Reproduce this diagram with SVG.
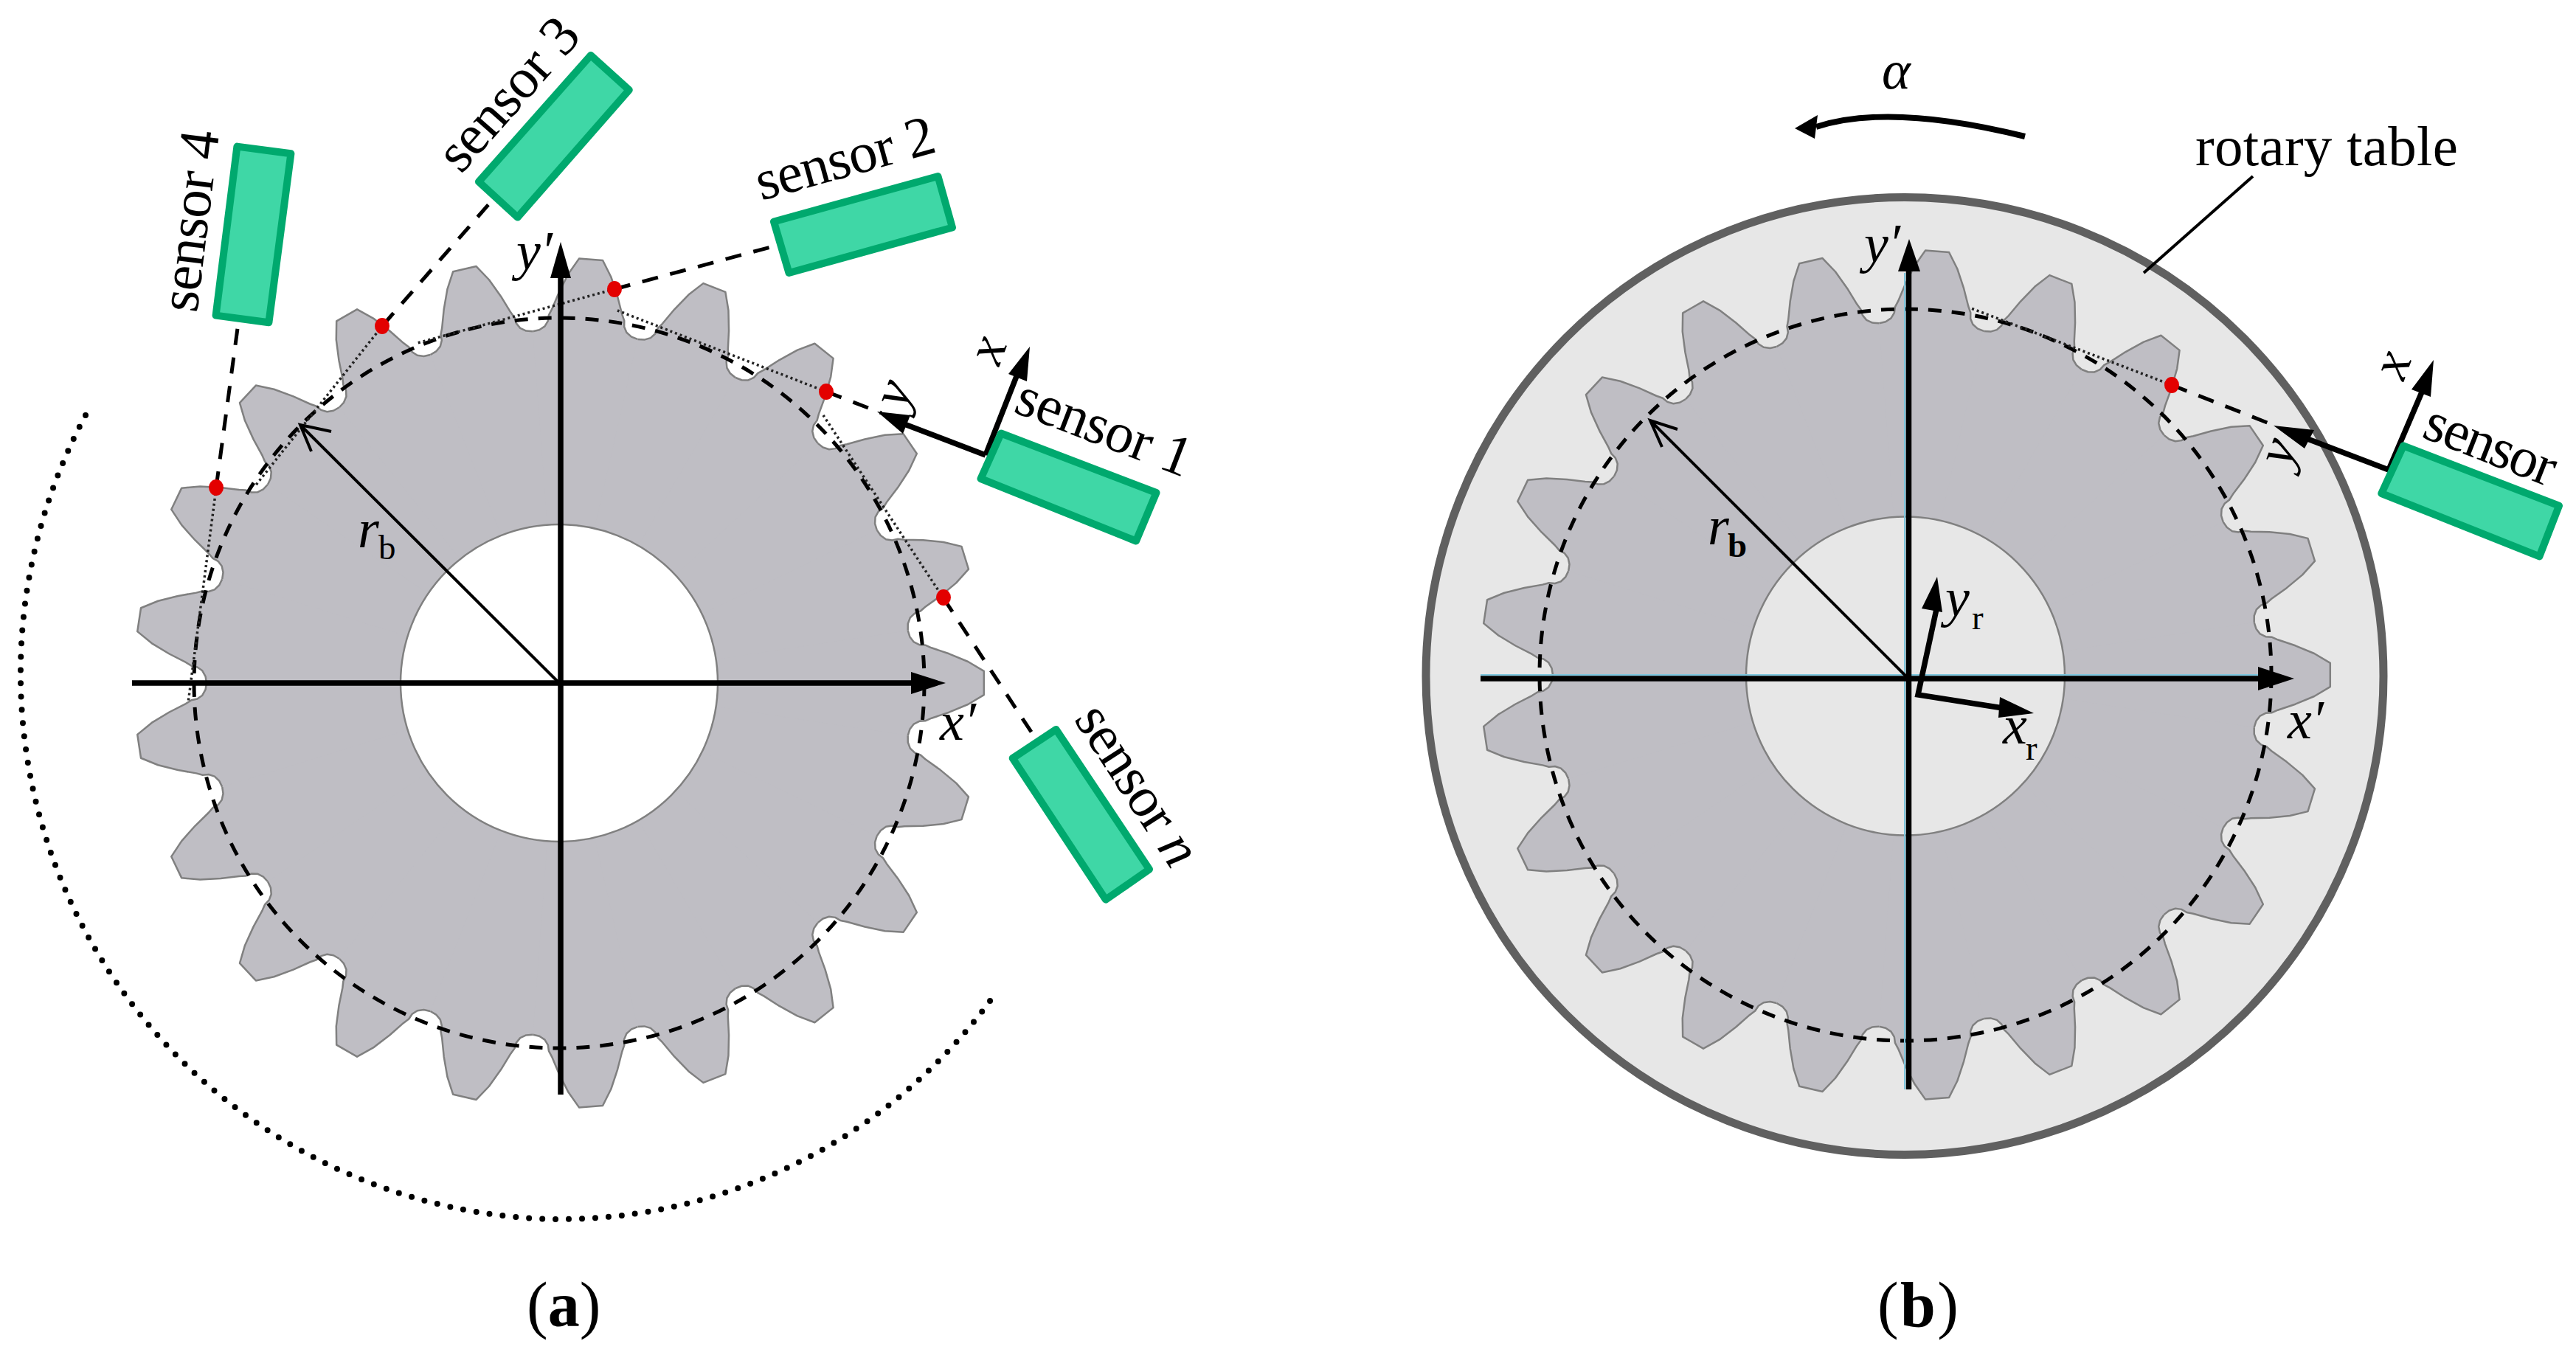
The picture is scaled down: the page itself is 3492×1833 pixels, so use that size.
<svg xmlns="http://www.w3.org/2000/svg" xmlns:xlink="http://www.w3.org/1999/xlink" width="3492" height="1833" viewBox="0 0 3492 1833">
<style>
text{font-family:"Liberation Serif","Times New Roman",serif;fill:#000}
.lab{font-size:77px}
.it{font-size:74px;font-style:italic}
.sub{font-size:47px}
.cap{font-size:86px}
.capb{font-weight:bold}
.sensor{fill:#3fd7a6;stroke:#00a96e;stroke-width:10;stroke-linejoin:round}
.gearfill{fill:#bfbec4;stroke:none}
.edge{fill:none;stroke:#808080;stroke-width:2.5;stroke-linejoin:round}
.pitch{fill:none;stroke:#000;stroke-width:5;stroke-dasharray:18 14}
.beam{fill:none;stroke:#000;stroke-width:5;stroke-dasharray:22 17}
.chord{fill:none;stroke:#222;stroke-width:3.5;stroke-dasharray:3 4}
.axis{fill:none;stroke:#000;stroke-width:7.5}
.thin{fill:none;stroke:#000;stroke-width:4}
.fringe{fill:none;stroke:#7cc6de;stroke-width:2}
.head{fill:#000;stroke:none}
.dot{fill:#e30000}
</style>
<defs>
<g id="tooth">
<path class="gearfill" d="M0 0L472.7 -71.2L475.4 -62.6L480.8 -55.6L488.3 -51.8L496.4 -51.3L504.7 -47.7L528.5 -39.7L554.2 -29L575.8 -16.1L575.8 16.1L554.2 29L528.5 39.7L504.7 47.7L496.4 51.3L488.3 51.8L480.8 55.6L475.4 62.6L472.7 71.2Z"/>
<path class="edge" d="M472.7 -71.2L475.4 -62.6L480.8 -55.6L488.3 -51.8L496.4 -51.3L504.7 -47.7L528.5 -39.7L554.2 -29L575.8 -16.1L575.8 16.1L554.2 29L528.5 39.7L504.7 47.7L496.4 51.3L488.3 51.8L480.8 55.6L475.4 62.6L472.7 71.2"/>
</g>
<g id="gearTeeth">
<circle class="gearfill" r="477"/>
<use href="#tooth"/>
<use href="#tooth" transform="rotate(17.142857)"/>
<use href="#tooth" transform="rotate(34.285714)"/>
<use href="#tooth" transform="rotate(51.428571)"/>
<use href="#tooth" transform="rotate(68.571429)"/>
<use href="#tooth" transform="rotate(85.714286)"/>
<use href="#tooth" transform="rotate(102.857143)"/>
<use href="#tooth" transform="rotate(120)"/>
<use href="#tooth" transform="rotate(137.142857)"/>
<use href="#tooth" transform="rotate(154.285714)"/>
<use href="#tooth" transform="rotate(171.428571)"/>
<use href="#tooth" transform="rotate(188.571429)"/>
<use href="#tooth" transform="rotate(205.714286)"/>
<use href="#tooth" transform="rotate(222.857143)"/>
<use href="#tooth" transform="rotate(240)"/>
<use href="#tooth" transform="rotate(257.142857)"/>
<use href="#tooth" transform="rotate(274.285714)"/>
<use href="#tooth" transform="rotate(291.428571)"/>
<use href="#tooth" transform="rotate(308.571429)"/>
<use href="#tooth" transform="rotate(325.714286)"/>
<use href="#tooth" transform="rotate(342.857143)"/>
</g>
</defs>
<rect width="3492" height="1833" fill="#fff"/>

<g id="gear-a">
<use href="#gearTeeth" transform="translate(758,926)"/>
<circle cx="758" cy="926" r="215" fill="#fff" stroke="#808080" stroke-width="2.5"/>
</g>
<g id="table-b">
<circle cx="2582" cy="916.5" r="649" fill="#e7e7e7" stroke="#606060" stroke-width="11"/>
</g>
<g id="gear-b">
<use href="#gearTeeth" transform="translate(2583,915)"/>
<circle cx="2583" cy="916.5" r="216" fill="#e7e7e7" stroke="#808080" stroke-width="2.5"/>
</g>

<g id="connectors">
<circle class="pitch" cx="758" cy="926" r="495"/>
<path class="chord" d="M1279 811L1116 563M1120 531L837 421M833 392L566 465M519 441L345 660M293 662L255 953"/>
<path class="beam" d="M1279 811L1403 1000M1120 531L1195 560M833 392L1052 333M519 441L666 273M293 661L323 438"/>
<path d="M116 563A740 740 0 0 0 753 1653A727 727 0 0 0 1345 1353" fill="none" stroke="#000" stroke-width="8" stroke-linecap="round" stroke-dasharray="0 18"/>

<path class="axis" d="M179 926H1240M760 1484V370"/>
<polygon class="head" points="1282,926 1235,911 1235,941"/>
<polygon class="head" points="760,328 746,377 774,377"/>
<path class="thin" d="M758 926L407 576M449 585L407 576L422 612"/>
<path class="axis" d="M1336 617L1380 505M1336 617L1226 575"/>
<polygon class="head" points="1396,470 1367,507 1392,517"/>
<polygon class="head" points="1189,558 1234,563 1224,588"/>

<circle class="pitch" cx="2583" cy="915" r="496"/>
<path class="chord" d="M2944 522L2672 418"/>
<path class="beam" d="M2944 522L3086 578"/>
<path class="fringe" d="M2007 915H3061M2582 1477V370"/>
<path class="axis" d="M2007 920H3065M2587.500 1477V365"/>
<polygon class="head" points="3110,920 3061,904 3061,936"/>
<polygon class="head" points="2588,324 2573,368 2603,368"/>
<path class="thin" d="M2587 920L2237 570M2274 582L2237 570L2253 606"/>
<path class="axis" d="M2625 826L2600 942L2715 960" stroke-width="6.5"/>
<polygon class="head" points="2626,782 2605,825 2633,830"/>
<polygon class="head" points="2757,967 2711,945 2709,973"/>
<path class="axis" d="M3238 637L3285 527M3238 637L3128 595" stroke-width="7"/>
<polygon class="head" points="3299,488 3269,528 3295,538"/>
<polygon class="head" points="3082,577 3137,583 3124,608"/>
<path d="M2745 185Q2561 139.500 2462 172" fill="none" stroke="#000" stroke-width="8"/>
<polygon class="head" points="2433,174 2464,156 2460,188"/>
<path class="thin" d="M3054 239L2906 370"/>
</g>

<g id="points">
<ellipse class="dot" cx="293" cy="661" rx="10" ry="11"/>
<ellipse class="dot" cx="518" cy="442" rx="10" ry="11"/>
<ellipse class="dot" cx="833" cy="392" rx="10" ry="11"/>
<ellipse class="dot" cx="1120" cy="531" rx="10" ry="11"/>
<ellipse class="dot" cx="1279" cy="810" rx="10" ry="11"/>
<ellipse class="dot" cx="2944" cy="522" rx="10" ry="11"/>
</g>

<g id="sensor-1"><polygon class="sensor" points="1357,587.500 1567.500,668 1540,733.500 1329.500,649"/><text class="lab" transform="translate(1372,558) rotate(21)" textLength="249">sensor 1</text></g>
<g id="sensor-2"><polygon class="sensor" points="1049,300.500 1271.500,239 1291,308.500 1069.500,370"/><text class="lab" transform="translate(1032,272) rotate(-15.5)" textLength="249">sensor 2</text></g>
<g id="sensor-3"><polygon class="sensor" points="800.800,75 852.800,122 701.600,294.600 649,246.400"/><text class="lab" transform="translate(625,237) rotate(-48.500)" textLength="249">sensor 3</text></g>
<g id="sensor-4"><polygon class="sensor" points="321.400,198.600 394.400,208.300 364.400,437.300 292.600,427.600"/><text class="lab" transform="translate(267,425) rotate(-83)" textLength="247">sensor 4</text></g>
<g id="sensor-n"><polygon class="sensor" points="1431.600,989 1558,1178.600 1499,1219.700 1372.700,1028"/><text class="lab" transform="translate(1455,975) rotate(57)" textLength="245">sensor <tspan font-style="italic">n</tspan></text></g>
<g id="sensor-b"><polygon class="sensor" points="3258,604.300 3469,685.700 3442.400,754.400 3228.300,669"/><text class="lab" transform="translate(3281,592) rotate(21.500)" textLength="186">sensor</text></g>

<g id="labels">
<text class="it" x="700" y="365">y′</text>
<text class="it" x="1274" y="1003">x′</text>
<text class="it" x="485" y="742">r</text><text class="sub" x="513" y="758">b</text>
<text class="it" text-anchor="middle" transform="translate(1360,482) rotate(-70)">x</text>
<text class="it" text-anchor="middle" transform="translate(1232,541) rotate(-70)">y</text>
<text class="it" x="2527" y="355">y′</text>
<text class="it" x="3101" y="1001">x′</text>
<text class="it" x="2315" y="738">r</text><text class="sub capb" x="2342" y="755">b</text>
<text class="it" x="2637" y="835">y</text><text class="sub" x="2673" y="853">r</text>
<text class="it" x="2715" y="1008">x</text><text class="sub" x="2746" y="1030">r</text>
<text class="it" text-anchor="middle" transform="translate(3264,502) rotate(-70)">x</text>
<text class="it" text-anchor="middle" transform="translate(3109,620) rotate(-70)">y</text>
<text class="it" x="2551" y="120">α</text>
<text class="lab" x="2976" y="224" textLength="356">rotary table</text>
<text class="cap" x="714" y="1798">(<tspan class="capb">a</tspan>)</text>
<text class="cap" x="2545" y="1798" textLength="110">(<tspan class="capb">b</tspan>)</text>
</g>
</svg>
